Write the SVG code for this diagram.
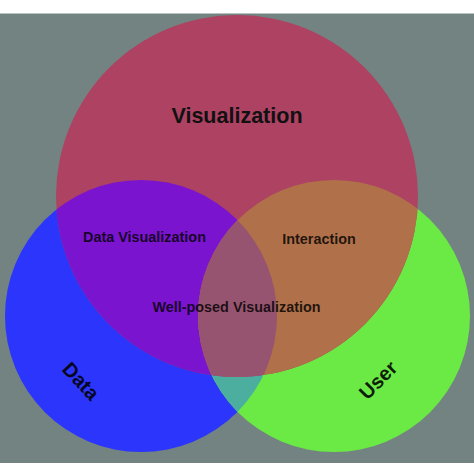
<svg xmlns="http://www.w3.org/2000/svg" width="474" height="474" viewBox="0 0 474 474">
<style>
.lbl{font-family:"Liberation Sans",Arial,sans-serif;font-weight:bold;text-anchor:middle}
.big{font-size:21.5px;fill:#111}
.mid{font-size:14.4px;fill:#000;fill-opacity:0.82}
.rot{font-size:20px;fill:#000;fill-opacity:0.88}
</style>
<defs>
<clipPath id="cV"><circle cx="237" cy="196" r="181"/></clipPath>
<clipPath id="cD"><circle cx="141" cy="316" r="136"/></clipPath>
<clipPath id="cU"><circle cx="334" cy="316" r="136"/></clipPath>
</defs>
<rect x="0" y="0" width="474" height="474" fill="#ffffff"/>
<rect x="0" y="13.5" width="474" height="449.5" fill="#738381"/>
<g id="data">
<circle cx="141" cy="316" r="136" fill="#2B35FB"/>
</g>
<g id="user">
<circle cx="334" cy="316" r="136" fill="#6BE945"/>
</g>
<g id="data-user" clip-path="url(#cD)">
<circle cx="334" cy="316" r="136" fill="#4BAE9E"/>
</g>
<g id="visualization">
<circle cx="237" cy="196" r="181" fill="#AD4262"/>
</g>
<g id="data-visualization" clip-path="url(#cV)">
<circle cx="141" cy="316" r="136" fill="#7A14CF"/>
</g>
<g id="interaction" clip-path="url(#cV)">
<circle cx="334" cy="316" r="136" fill="#B0704A"/>
</g>
<g id="well-posed" clip-path="url(#cV)">
<g clip-path="url(#cD)">
<circle cx="334" cy="316" r="136" fill="#975470"/>
</g>
</g>
<g id="labels">
<text class="lbl big" x="237" y="123">Visualization</text>
<text class="lbl mid" x="144.5" y="242">Data Visualization</text>
<text class="lbl mid" x="319" y="244">Interaction</text>
<text class="lbl mid" x="236.5" y="311.5">Well-posed Visualization</text>
<text class="lbl rot" transform="translate(81,381) rotate(47)" x="0" y="7">Data</text>
<text class="lbl rot" transform="translate(378,380) rotate(-45)" x="0" y="7">User</text>
</g>
</svg>
